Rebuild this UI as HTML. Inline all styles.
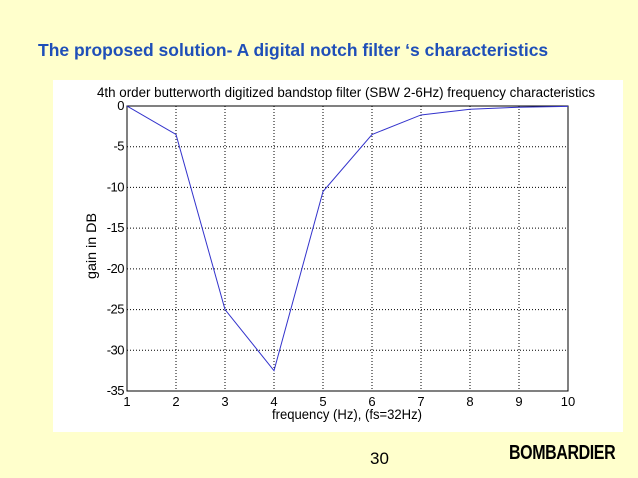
<!DOCTYPE html>
<html><head><meta charset="utf-8"><style>
body{margin:0;width:638px;height:478px;background:#FFFFCC;position:relative;overflow:hidden;font-family:"Liberation Sans",sans-serif}
#title{position:absolute;left:38px;top:40px;color:#1F4FB8;font-weight:bold;font-size:17.5px;white-space:nowrap;letter-spacing:0px}
#panel{position:absolute;left:53px;top:80px;width:570px;height:352px;background:#fff}
#pg{position:absolute;left:370px;top:449px;font-size:17px}
#logo{position:absolute;left:509px;top:442px;font-weight:bold;font-size:20px;letter-spacing:-0.5px;transform:scaleX(0.8);transform-origin:left}
</style></head><body>
<div id="title">The proposed solution- A digital notch filter ‘s characteristics</div>
<div id="panel"></div>
<svg id="chart" width="638" height="478" style="position:absolute;left:0;top:0"></svg>
<div id="pg">30</div>
<div id="logo">BOMBARDIER</div>
<script>
const freqs=[1,2,3,4,5,6,7,8,9,10];
const gains=[0,-3.5,-25,-32.5,-10.5,-3.5,-1.1,-0.4,-0.15,-0.05];
const xTicks=[1,2,3,4,5,6,7,8,9,10];
const yTicks=[0,-5,-10,-15,-20,-25,-30,-35];
const L=127,R=568,T=106,B=391;
const xs=v=>L+(v-1)/9*(R-L);
const ys=v=>T+(0-v)/35*(B-T);
const svg=document.getElementById('chart');
const NS='http://www.w3.org/2000/svg';
function mk(t,a){const e=document.createElementNS(NS,t);for(const k in a)e.setAttribute(k,a[k]);svg.appendChild(e);return e;}
xTicks.forEach(v=>{
 if(v>1&&v<10){const g=mk('line',{x1:xs(v),x2:xs(v),y1:T,y2:B,stroke:'#000','stroke-width':1,'stroke-dasharray':'1,2'});
 }
 const t=mk('text',{x:xs(v),y:B+15,'text-anchor':'middle','font-size':13,'font-family':'Liberation Sans, sans-serif'});t.textContent=v;
 
});
yTicks.forEach(v=>{
 if(v<0&&v>-35){const g=mk('line',{x1:L,x2:R,y1:ys(v),y2:ys(v),stroke:'#000','stroke-width':1,'stroke-dasharray':'1,2'});
 }
 const t=mk('text',{x:L-3,y:ys(v)+4,'text-anchor':'end','font-size':13,'font-family':'Liberation Sans, sans-serif','letter-spacing':'-0.5'});t.textContent=v;
 
});
const ax=mk('rect',{x:L,y:T,width:R-L,height:B-T,fill:'none',stroke:'#000','stroke-width':1});

const ln=mk('polyline',{points:freqs.map((f,i)=>xs(f)+','+ys(gains[i])).join(' '),fill:'none',stroke:'#3333CC','stroke-width':1});

const ti=mk('text',{x:(97+595)/2,y:97,'text-anchor':'middle','font-size':13.5,'font-family':'Liberation Sans, sans-serif','textLength':498,'lengthAdjust':'spacingAndGlyphs'});ti.textContent='4th order butterworth digitized bandstop filter (SBW 2-6Hz) frequency characteristics';

const xl=mk('text',{x:347,y:419,'text-anchor':'middle','font-size':13.5,'font-family':'Liberation Sans, sans-serif','textLength':150,'lengthAdjust':'spacingAndGlyphs'});xl.textContent='frequency (Hz), (fs=32Hz)';

const yl=mk('text',{x:0,y:0,'text-anchor':'middle','font-size':13.5,'font-family':'Liberation Sans, sans-serif','textLength':66,'lengthAdjust':'spacingAndGlyphs',transform:'translate(96,246) rotate(-90)'});yl.textContent='gain in DB';

</script>
</body></html>
